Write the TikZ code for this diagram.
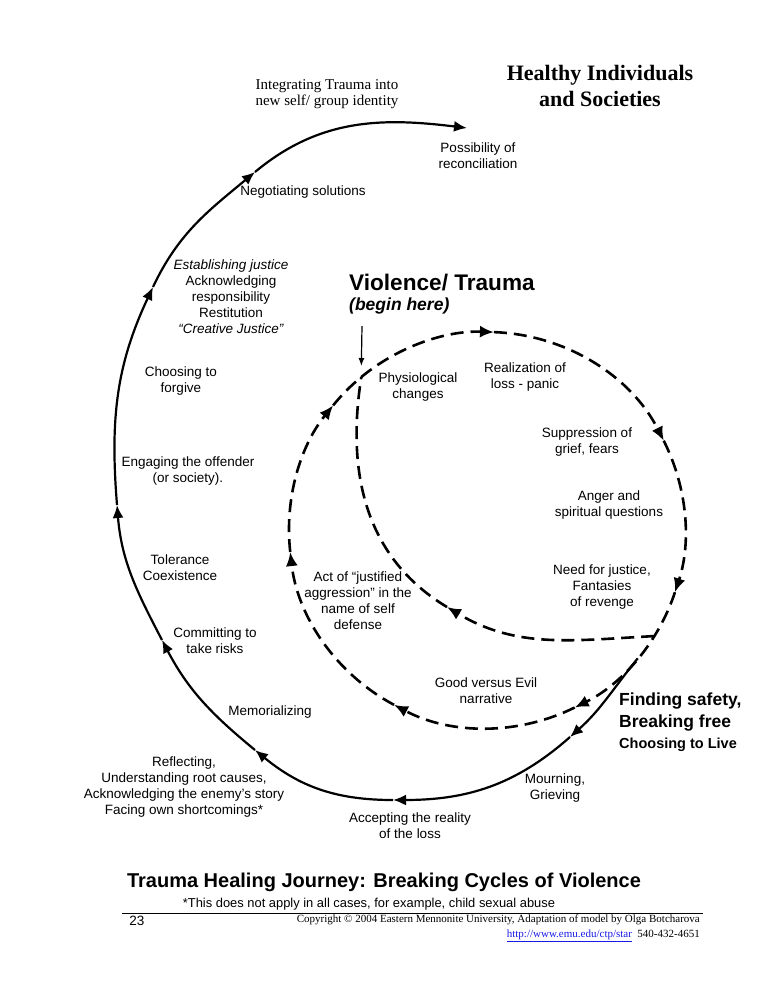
\documentclass[tikz,border=0pt]{standalone}
\usepackage{fontspec}
\setmainfont{Liberation Sans}
\newfontfamily\serifface{Liberation Serif}
\usetikzlibrary{arrows.meta, positioning, calc}
\definecolor{linkBlue}{HTML}{1A1AE6}

\begin{document}
\begin{tikzpicture}[
    x=1pt, y=1pt,
    lbl/.style={align=center, font=\fontsize{13.5}{16}\selectfont, inner sep=0pt},
    serlbl/.style={align=center, font=\serifface\fontsize{15}{15.5}\selectfont, inner sep=0pt},
    headline/.style={align=center, font=\serifface\bfseries\fontsize{22}{26}\selectfont, inner sep=0pt},
    safety/.style={align=left, font=\bfseries\fontsize{17.5}{22}\selectfont, inner sep=0pt, anchor=west},
    smallprint/.style={anchor=east, inner sep=0pt, font=\serifface\fontsize{11}{12}\selectfont},
    spiral/.style={line width=2.2pt, -{Latex[length=13pt,width=11pt]}},
    cycle/.style={line width=2.6pt, dash pattern=on 13pt off 7pt, -{Latex[length=14pt,width=12pt]}},
    plaincycle/.style={line width=2.6pt, dash pattern=on 13pt off 7pt},
  ]
    \fill[white] (0,0) rectangle (768,-994);
    \useasboundingbox (0,0) rectangle (768,-994);

    % the dashed cycle of violence
    \coordinate (dc) at (487,-530);
    \coordinate (cross) at ($(dc)+(129.4:198)$);
    \coordinate (jn) at ($(dc)+(-32.4:198)$);
    \coordinate (so) at ($(dc)+(-40.4:198)$);
    \coordinate (ia) at (447,-607);

    \draw[cycle] (dc) ++(129.4:198) arc[start angle=129.4, end angle=88, radius=198];
    \draw[cycle] (dc) ++(88:198) arc[start angle=88, end angle=26.8, radius=198];
    \draw[cycle] (dc) ++(26.8:198) arc[start angle=26.8, end angle=-18.3, radius=198];
    \draw[cycle] (dc) ++(-18.3:198) arc[start angle=-18.3, end angle=-63.7, radius=198];
    \draw[cycle] (dc) ++(-63.7:198) arc[start angle=-63.7, end angle=-118, radius=198];
    \draw[cycle] (dc) ++(-118:198) arc[start angle=-118, end angle=-173.6, radius=198];
    \draw[cycle] (dc) ++(-173.6:198) arc[start angle=-173.6, end angle=-219, radius=198];
    \draw[plaincycle] (dc) ++(-219:198) arc[start angle=-219, end angle=-230.6, radius=198];

    % back into the cycle
    \draw[cycle] (jn) to[out=183, in=-31] (ia);
    \draw[plaincycle] (ia) to[out=149, in=-99] (cross);

    % the healing spiral
    \coordinate (s1) at (570,-737);
    \coordinate (s2) at (393,-800);
    \coordinate (s3) at (255,-750);
    \coordinate (s4) at (162,-640);
    \coordinate (s5) at (117,-505);
    \coordinate (s6) at (153,-287);
    \coordinate (s7) at (255,-172);
    \coordinate (s8) at (467,-128);

    \draw[spiral] (so) to[out=231, in=41.5] (s1);
    \draw[spiral] (s1) to[out=221.5, in=0] (s2);
    \draw[spiral] (s2) to[out=180, in=-39.4] (s3);
    \draw[spiral] (s3) to[out=140.6, in=-62.4] (s4);
    \draw[spiral] (s4) to[out=117.6, in=-85.4] (s5);
    \draw[spiral] (s5) to[out=94.6, in=-115.2] (s6);
    \draw[spiral] (s6) to[out=64.8, in=-140.2] (s7);
    \draw[spiral] (s7) to[out=39.8, in=173] (s8);

    % headings
    \node[headline] (healthy) at (600,-86) {Healthy Individuals\\and Societies};
    \node[anchor=west, inner sep=0pt, font=\bfseries\fontsize{22.6}{25}\selectfont] (violence) at (349,-283) {Violence/ Trauma};
    \node[below=6pt of violence.south west, anchor=north west, inner sep=0pt,
          font=\bfseries\itshape\fontsize{17.5}{19}\selectfont] (beginhere) {(begin here)};
    \coordinate (bh) at (362,-326);
    \draw[line width=1.2pt, -{Latex[length=8pt,width=6pt]}] (bh) -- ([yshift=11pt]cross);

    % labels round the cycle
    \node[lbl] (physio) at (418,-387) {Physiological\\changes};
    \node[lbl] (realize) at (525,-377) {Realization of\\loss - panic};
    \node[lbl] (suppress) at (587,-442) {Suppression of\\grief, fears};
    \node[lbl] (anger) at (609,-505) {Anger and\\spiritual questions};
    \node[lbl] (revenge) at (602,-587) {Need for justice,\\Fantasies\\of revenge};
    \node[lbl] (aggress) at (358,-601) {Act of “justified\\aggression” in the\\name of self\\defense};
    \node[lbl] (goodevil) at (486,-691) {Good versus Evil\\narrative};

    % breaking free
    \node[safety] (safety) at (619,-712) {Finding safety,\\Breaking free};
    \node[below=6pt of safety.south west, anchor=north west, inner sep=0pt,
          font=\bfseries\fontsize{14.5}{16}\selectfont] (live) {Choosing to Live};

    % labels round the spiral
    \node[lbl] (mourn) at (555,-788) {Mourning,\\Grieving};
    \node[lbl] (accept) at (410,-826) {Accepting the reality\\of the loss};
    \node[lbl] (reflect) at (184,-787) {Reflecting,\\Understanding root causes,\\Acknowledging the enemy’s story\\Facing own shortcomings*};
    \node[lbl] (memorial) at (270,-712) {Memorializing};
    \node[lbl] (risks) at (215,-641) {Committing to\\take risks};
    \node[lbl] (tolerance) at (180,-568) {Tolerance\\Coexistence};
    \node[lbl] (engage) at (188,-471) {Engaging the offender\\(or society).};
    \node[lbl] (forgive) at (181,-381) {Choosing to\\forgive};
    \node[lbl] (justice) at (231,-297) {\itshape Establishing justice\\Acknowledging\\responsibility\\Restitution\\\itshape “Creative Justice”};
    \node[lbl] (negotiate) at (303,-192) {Negotiating solutions};
    \node[serlbl] (integrate) at (327,-94) {Integrating Trauma into\\new self/ group identity};
    \node[lbl] (reconcile) at (478,-156) {Possibility of\\reconciliation};

    % footer
    \node[inner sep=0pt, font=\bfseries\fontsize{20}{22}\selectfont] (caption) at (384,-882) {Trauma Healing Journey: Breaking Cycles of Violence};
    \node[inner sep=0pt, font=\fontsize{12.9}{15}\selectfont] (footnote) at (369,-904) {*This does not apply in all cases, for example, child sexual abuse};
    \coordinate (ruleL) at (122,-913);
    \coordinate (ruleR) at (703,-913);
    \draw[line width=0.9pt] (ruleL) -- (ruleR);
    \node[lbl] (page) at (137,-921) {23};
    \node[smallprint] (copy) at (700,-920)
      {Copyright © 2004 Eastern Mennonite University, Adaptation of model by Olga Botcharova};
    \node[smallprint] (url) at (700,-936)
      {\textcolor{linkBlue}{\underline{http://www.emu.edu/ctp/star}}\ \ 540-432-4651};
  \end{tikzpicture}
\end{document}
